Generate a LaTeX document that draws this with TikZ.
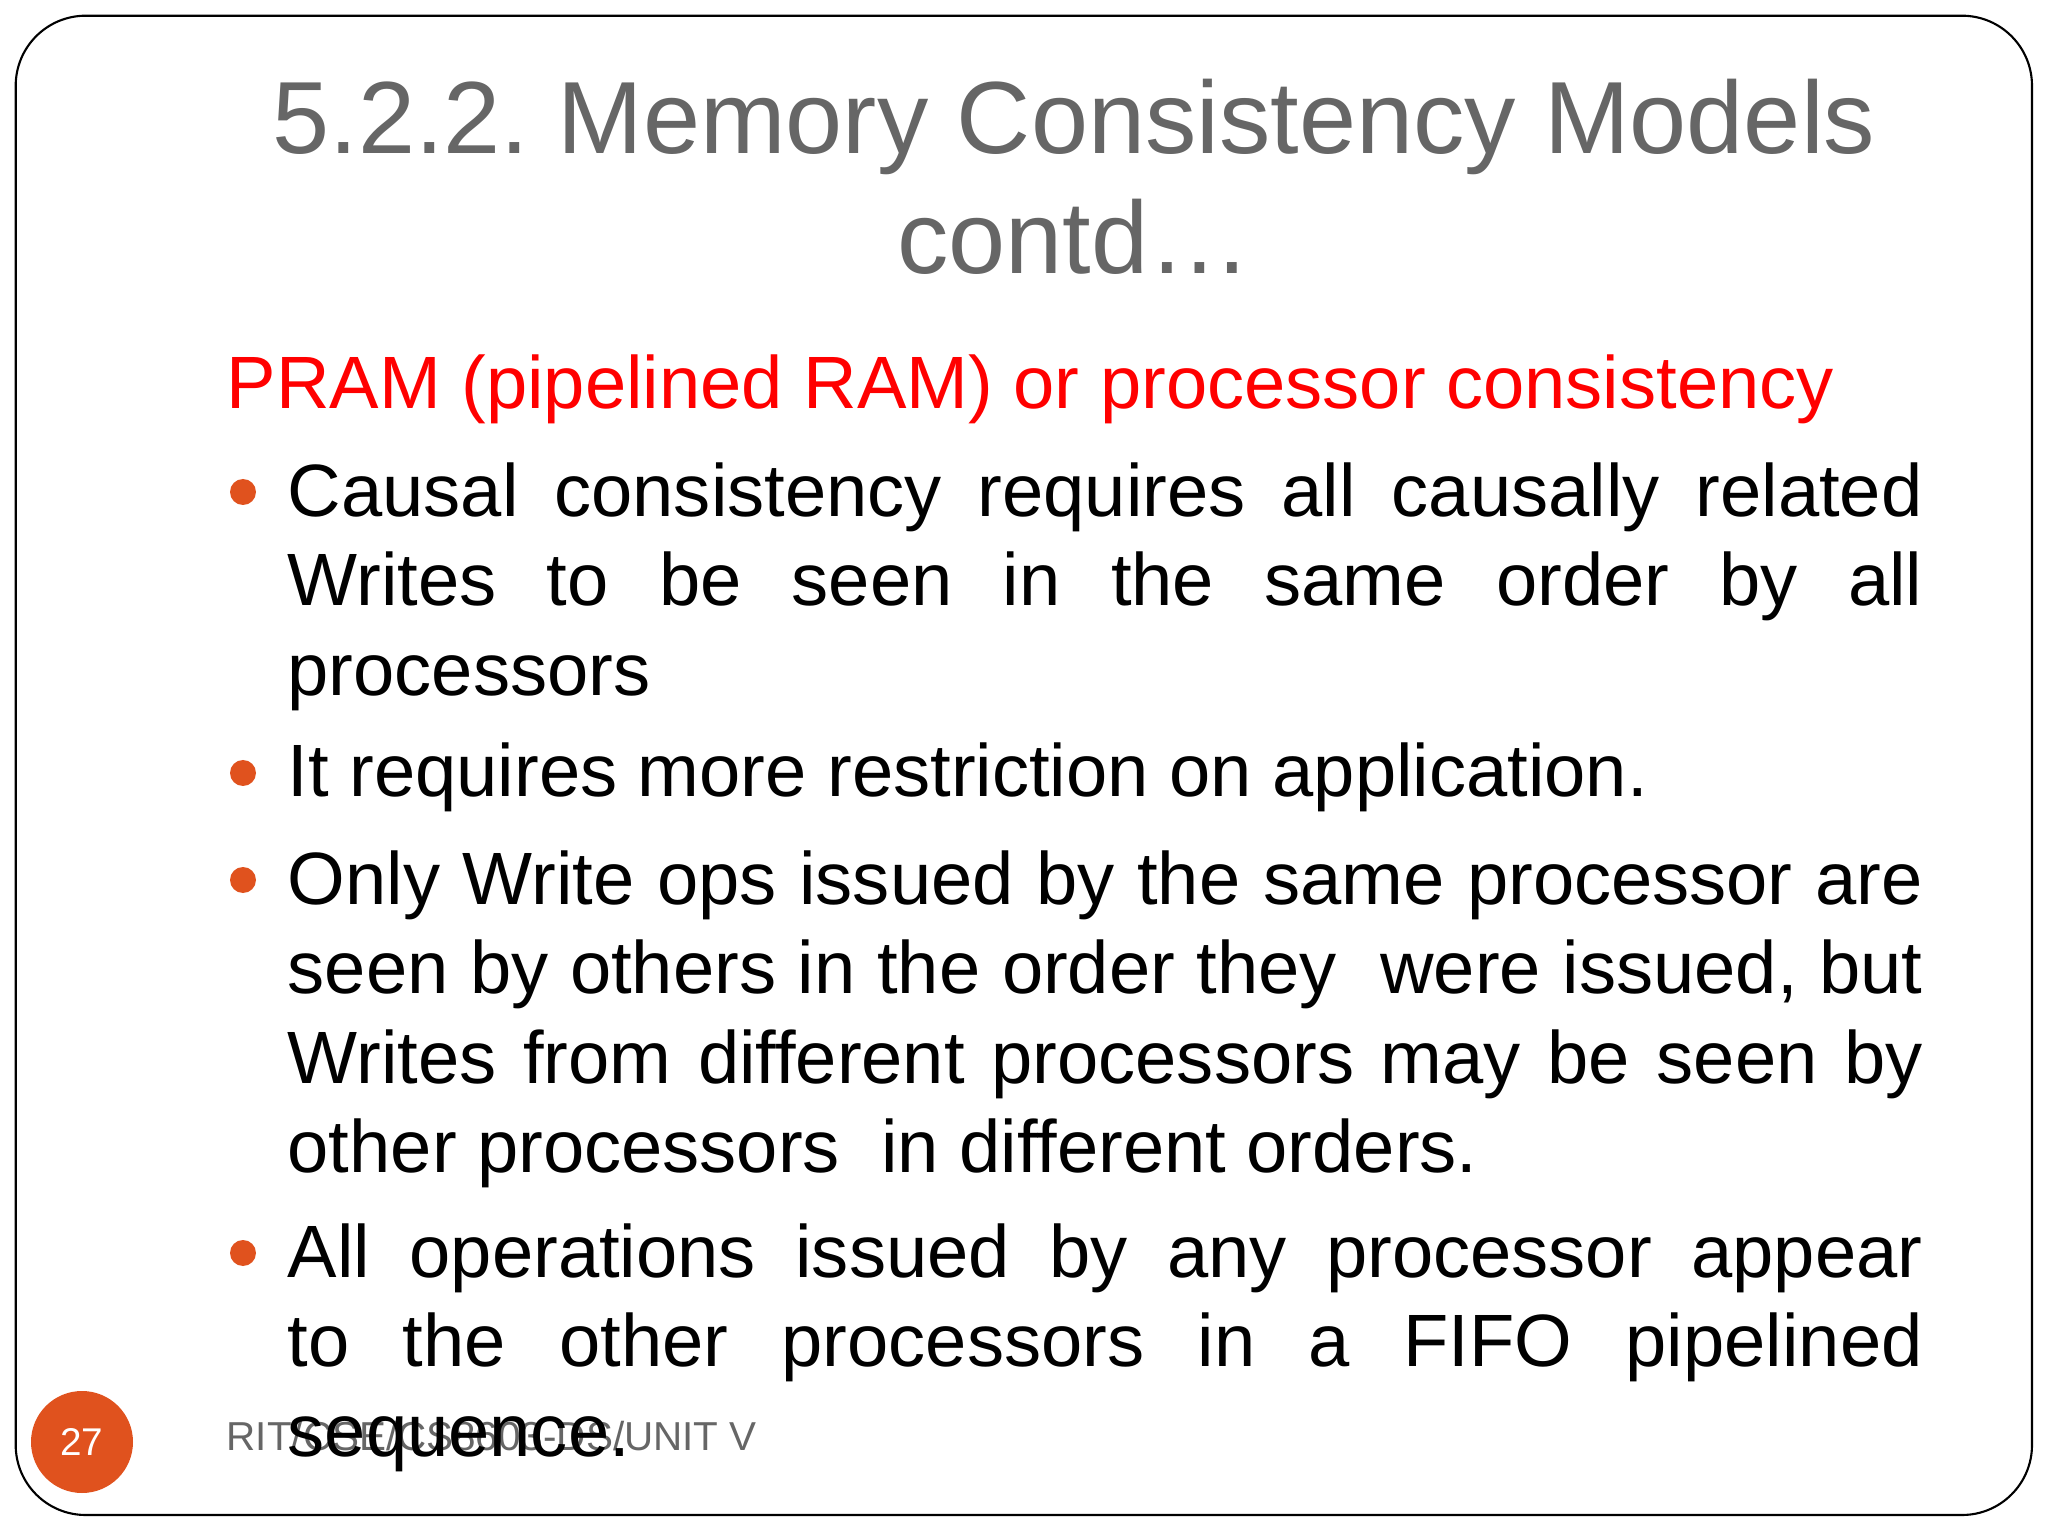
\documentclass[tikz,border=0pt]{standalone}
\usepackage{fontspec}
\setmainfont{Liberation Sans}
\definecolor{titlegray}{HTML}{666666}
\definecolor{bulorange}{HTML}{E0521E}
\definecolor{pramred}{HTML}{FF0000}
\hyphenpenalty=10000
\exhyphenpenalty=10000
\begin{document}
\frenchspacing
\begin{tikzpicture}[x=1cm,y=1cm,
  body/.style={anchor=base west,inner sep=0pt,text width=16.35cm,align=justify,font=\fontsize{21.1}{25.5}\selectfont},
  dot/.style={circle,fill=bulorange,inner sep=0pt,minimum size=0.26cm}]
\useasboundingbox (0,0) rectangle (20.48,-15.36);
\draw[line width=0.6pt,rounded corners=0.7cm] (0.157,-0.157) rectangle (20.32,-15.15);
\node[anchor=base,inner sep=0pt,text=titlegray,font=\fontsize{29.2}{34}\selectfont] (t1) at (10.74,-1.54) {5.2.2. Memory Consistency Models};
\node[anchor=base,inner sep=0pt,text=titlegray,font=\fontsize{29.2}{34}\selectfont] (t2) at (10.74,-2.74) {contd…};
\node[anchor=base west,inner sep=0pt,text=pramred,font=\fontsize{21.1}{25}\selectfont] (sub) at (2.26,-4.09) {PRAM (pipelined RAM) or processor consistency};
\node[body] (b1) at (2.87,-5.16) {Causal consistency requires all causally related Writes to be seen in the same order by all\linebreak processors};
\node[body] (b2) at (2.87,-7.97) {It requires more restriction on application.};
\node[body] (b3) at (2.87,-9.04) {Only Write ops issued by the same processor are seen by others in the order they\ \ were issued, but Writes from different processors may be seen by other processors\ \ in different orders.};
\node[anchor=base west,inner sep=0pt,text=titlegray,font=\fontsize{11.5}{13}\selectfont] (foot) at (2.26,-14.50) {RIT/CSE/CS8603-DS/UNIT V};
\node[body] (b4) at (2.87,-12.77) {All operations issued by any processor appear to the other processors in a FIFO pipelined\linebreak sequence.};
\node[dot] (d1) at (2.43,-4.92) {};
\node[dot] (d2) at (2.43,-7.73) {};
\node[dot] (d3) at (2.43,-8.80) {};
\node[dot] (d4) at (2.43,-12.53) {};
\node[circle,fill=bulorange,inner sep=0pt,minimum size=1.02cm,text=white,font=\fontsize{11}{13}\selectfont] (pg) at (0.82,-14.42) {27};
\end{tikzpicture}
\end{document}
